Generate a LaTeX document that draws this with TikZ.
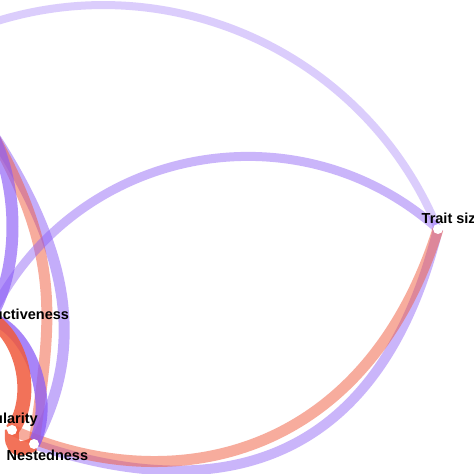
\documentclass[tikz,border=0pt]{standalone}
\usepackage{fontspec}
\setmainfont{Liberation Sans}
\definecolor{pur}{HTML}{8B5CF6}
\definecolor{sal}{HTML}{F05A3C}
\begin{document}
\begin{tikzpicture}[x=1pt,y=-1pt,
  arcbase/.style={line cap=butt},
  toparc/.style={arcbase, draw=pur, draw opacity=0.3, line width=8},
  ptarc/.style={arcbase, draw=pur, draw opacity=0.45, line width=9},
  outerarc/.style={arcbase, draw=pur, draw opacity=0.5, line width=11},
  innerarc/.style={arcbase, draw=pur, draw opacity=0.65, line width=12},
  midarc/.style={arcbase, draw=pur, draw opacity=0.75, line width=12},
  botparc/.style={arcbase, draw=pur, draw opacity=0.45, line width=10},
  salarc/.style={arcbase, draw=sal, draw opacity=0.5, line width=11},
  redarc/.style={arcbase, draw=sal, draw opacity=0.85, line width=14},
  dot/.style={circle, fill=white, draw=none, inner sep=0pt, minimum size=10pt},
  lbl/.style={inner sep=0pt, font=\bfseries\fontsize{14.5}{17}\selectfont, text=black}
]
\useasboundingbox (0,0) rectangle (474,474);
\clip (0,0) rectangle (474,474);
\fill[white] (0,0) rectangle (474,474);

\coordinate (T) at (438,229);
\coordinate (M) at (12,430);
\coordinate (N) at (34,444);
\coordinate (P) at (-10,318);
\coordinate (X) at (-20,26.8);
\coordinate (Q) at (-10,130);

% arcs
\draw[toparc] (X) .. controls +(182.2,-66.0) and +(-73.9,-179.2) .. (T);
\draw[outerarc] (Q) .. controls +(88,132.8) and +(47,-88) .. (N);
\draw[salarc] (Q) .. controls +(75,130.5) and +(15.6,-118.8) .. (N);
\draw[ptarc] (P) .. controls +(82.7,-171.1) and +(-141.9,-126.4) .. (T);
\draw[innerarc] (Q) .. controls +(30,55) and +(30,-48) .. (P);
\draw[botparc] (N) .. controls +(160,55) and +(-64,258) .. (T);
\draw[salarc] (M) .. controls +(162,72) and +(-72,228) .. (T);
\draw[midarc] (P) .. controls +(40,12) and +(21,-44) .. (N);
\draw[redarc] (P) .. controls +(35,22) and +(23,-30) .. (M);
\draw[redarc] (M) .. controls +(-2,20) and +(-15,8) .. (N);

% dots
\node[dot] (Td) at (T) {};
\node[dot] (Md) at (M) {};
\node[dot] (Nd) at (N) {};

% labels
\node[lbl, anchor=base west] (Tl) at (421.5,223) {Trait siz};
\node[lbl, anchor=base west] (Ml) at (-6,423.5) {ularity};
\node[lbl, anchor=base west] (Nl) at (6.5,460) {Nestedness};
\node[lbl, anchor=base west] (Pl) at (-6.2,319.5) {uctiveness};
\end{tikzpicture}
\end{document}
